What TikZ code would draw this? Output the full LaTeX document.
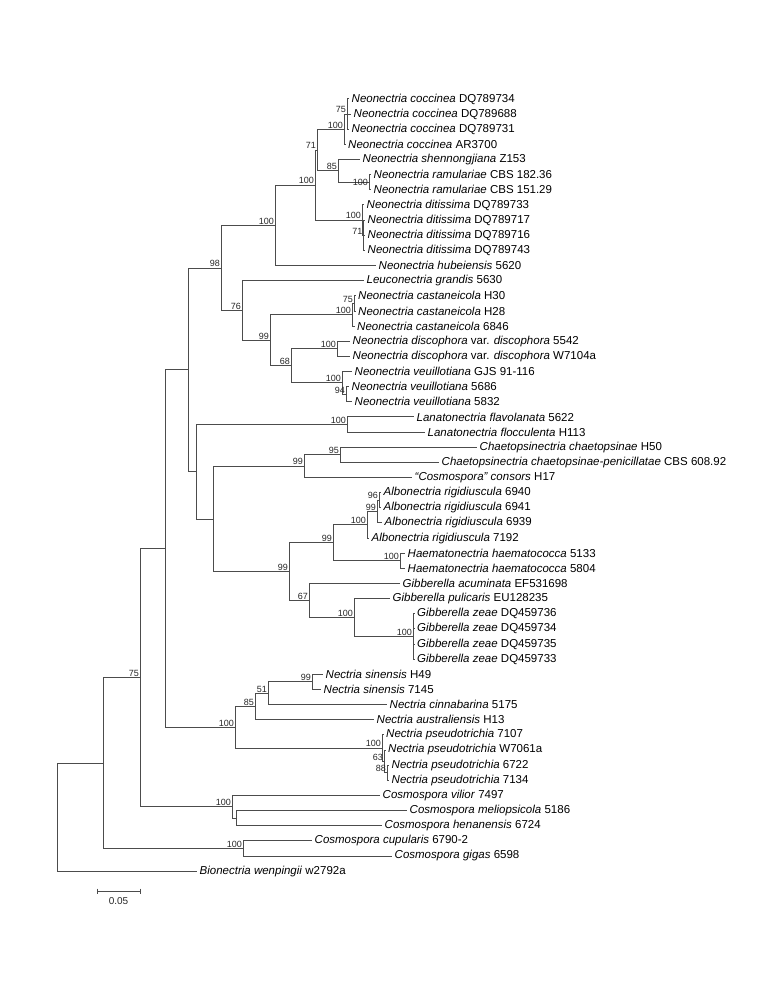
\documentclass[tikz,border=0pt]{standalone}
\usepackage{fontspec}
\setmainfont{Liberation Sans}
\usepackage{tikz}
\usetikzlibrary{positioning}

\begin{document}
\begin{tikzpicture}[x=1pt, y=-1pt,
  taxonnode/.style={anchor=west, inner sep=2.5pt, font=\fontsize{11.5}{13}\selectfont},
  bootnode/.style={anchor=south east, inner sep=1pt, text=black!85, font=\fontsize{9}{10}\selectfont},
  branch/.style={draw=black!70, line width=1pt},
  scalenode/.style={inner sep=0pt, text=black!85, font=\fontsize{10}{11}\selectfont}
  ]
  \useasboundingbox (0,0) rectangle (780,992);

  % Taxa
  \node[taxonnode] (taxon1)  at (349,99.0)   {\textit{Neonectria coccinea} DQ789734};
  \node[taxonnode] (taxon2)  at (351,114.1)  {\textit{Neonectria coccinea} DQ789688};
  \node[taxonnode] (taxon3)  at (349,129.3)  {\textit{Neonectria coccinea} DQ789731};
  \node[taxonnode] (taxon4)  at (345.5,144.4) {\textit{Neonectria coccinea} AR3700};
  \node[taxonnode] (taxon5)  at (360,159.6)  {\textit{Neonectria shennongjiana} Z153};
  \node[taxonnode] (taxon6)  at (371,174.7)  {\textit{Neonectria ramulariae} CBS 182.36};
  \node[taxonnode] (taxon7)  at (371,189.8)  {\textit{Neonectria ramulariae} CBS 151.29};
  \node[taxonnode] (taxon8)  at (364,205.0)  {\textit{Neonectria ditissima} DQ789733};
  \node[taxonnode] (taxon9)  at (365,220.1)  {\textit{Neonectria ditissima} DQ789717};
  \node[taxonnode] (taxon10) at (365,235.3)  {\textit{Neonectria ditissima} DQ789716};
  \node[taxonnode] (taxon11) at (365,250.4)  {\textit{Neonectria ditissima} DQ789743};
  \node[taxonnode] (taxon12) at (376,265.5)  {\textit{Neonectria hubeiensis} 5620};
  \node[taxonnode] (taxon13) at (364,280.7)  {\textit{Leuconectria grandis} 5630};
  \node[taxonnode] (taxon14) at (355.5,295.8) {\textit{Neonectria castaneicola} H30};
  \node[taxonnode] (taxon15) at (355.5,311.0) {\textit{Neonectria castaneicola} H28};
  \node[taxonnode] (taxon16) at (354.5,326.1) {\textit{Neonectria castaneicola} 6846};
  \node[taxonnode] (taxon17) at (350,341.2)  {\textit{Neonectria discophora} var. \textit{discophora} 5542};
  \node[taxonnode] (taxon18) at (350,356.4)  {\textit{Neonectria discophora} var. \textit{discophora} W7104a};
  \node[taxonnode] (taxon19) at (352,371.5)  {\textit{Neonectria veuillotiana} GJS 91-116};
  \node[taxonnode] (taxon20) at (349,386.7)  {\textit{Neonectria veuillotiana} 5686};
  \node[taxonnode] (taxon21) at (352,401.8)  {\textit{Neonectria veuillotiana} 5832};
  \node[taxonnode] (taxon22) at (414,416.9)  {\textit{Lanatonectria flavolanata} 5622};
  \node[taxonnode] (taxon23) at (425,432.1)  {\textit{Lanatonectria flocculenta} H113};
  \node[taxonnode] (taxon24) at (477,447.2)  {\textit{Chaetopsinectria chaetopsinae} H50};
  \node[taxonnode] (taxon25) at (439,462.4)  {\textit{Chaetopsinectria chaetopsinae-penicillatae} CBS 608.92};
  \node[taxonnode] (taxon26) at (412,477.5)  {\textit{“Cosmospora” consors} H17};
  \node[taxonnode] (taxon27) at (381,492.6)  {\textit{Albonectria rigidiuscula} 6940};
  \node[taxonnode] (taxon28) at (381,507.8)  {\textit{Albonectria rigidiuscula} 6941};
  \node[taxonnode] (taxon29) at (382,522.9)  {\textit{Albonectria rigidiuscula} 6939};
  \node[taxonnode] (taxon30) at (369,538.1)  {\textit{Albonectria rigidiuscula} 7192};
  \node[taxonnode] (taxon31) at (405,553.2)  {\textit{Haematonectria haematococca} 5133};
  \node[taxonnode] (taxon32) at (405,568.3)  {\textit{Haematonectria haematococca} 5804};
  \node[taxonnode] (taxon33) at (400,583.5)  {\textit{Gibberella acuminata} EF531698};
  \node[taxonnode] (taxon34) at (390,598.6)  {\textit{Gibberella pulicaris} EU128235};
  \node[taxonnode] (taxon35) at (414.5,613.8) {\textit{Gibberella zeae} DQ459736};
  \node[taxonnode] (taxon36) at (414.5,628.9) {\textit{Gibberella zeae} DQ459734};
  \node[taxonnode] (taxon37) at (414.5,644.0) {\textit{Gibberella zeae} DQ459735};
  \node[taxonnode] (taxon38) at (414.5,659.2) {\textit{Gibberella zeae} DQ459733};
  \node[taxonnode] (taxon39) at (323,674.3)  {\textit{Nectria sinensis} H49};
  \node[taxonnode] (taxon40) at (321,689.5)  {\textit{Nectria sinensis} 7145};
  \node[taxonnode] (taxon41) at (387,704.6)  {\textit{Nectria cinnabarina} 5175};
  \node[taxonnode] (taxon42) at (374,719.7)  {\textit{Nectria australiensis} H13};
  \node[taxonnode] (taxon43) at (383.5,734.9) {\textit{Nectria pseudotrichia} 7107};
  \node[taxonnode] (taxon44) at (385.5,750.0) {\textit{Nectria pseudotrichia} W7061a};
  \node[taxonnode] (taxon45) at (389,765.2)  {\textit{Nectria pseudotrichia} 6722};
  \node[taxonnode] (taxon46) at (389,780.3)  {\textit{Nectria pseudotrichia} 7134};
  \node[taxonnode] (taxon47) at (380,795.4)  {\textit{Cosmospora vilior} 7497};
  \node[taxonnode] (taxon48) at (407,810.6)  {\textit{Cosmospora meliopsicola} 5186};
  \node[taxonnode] (taxon49) at (382,825.7)  {\textit{Cosmospora henanensis} 6724};
  \node[taxonnode] (taxon50) at (312,840.9)  {\textit{Cosmospora cupularis} 6790-2};
  \node[taxonnode] (taxon51) at (392,856.0)  {\textit{Cosmospora gigas} 6598};
  \node[taxonnode] (taxon52) at (197,871.1)  {\textit{Bionectria wenpingii} w2792a};

  % Internal nodes
  \coordinate (coccinea75)   at (347,114.2);
  \coordinate (coccinea100)  at (344,129.3);
  \coordinate (ramulariae)   at (369,182.3);
  \coordinate (shennong85)   at (338,170.9);
  \coordinate (neo71)        at (317,150.1);
  \coordinate (ditissima71)  at (363.5,235.3);
  \coordinate (ditissima100) at (362,220.2);
  \coordinate (neo100)       at (315,185.2);
  \coordinate (neonectria)   at (275,225.4);
  \coordinate (castan75)     at (354,303.4);
  \coordinate (castan100)    at (352,314.8);
  \coordinate (discoph)      at (337,348.8);
  \coordinate (veuil94)      at (346,394.3);
  \coordinate (veuil100)     at (342,382.9);
  \coordinate (clade68)      at (291,365.9);
  \coordinate (clade99)      at (270,340.4);
  \coordinate (clade76)      at (242,310.6);
  \coordinate (clade98)      at (221,268.0);
  \coordinate (lanato)       at (347,424.5);
  \coordinate (chaeto95)     at (340,454.8);
  \coordinate (chaeto99)     at (304,466.2);
  \coordinate (albo96)       at (379,500.2);
  \coordinate (albo99)       at (377,511.6);
  \coordinate (albo100)      at (367,524.9);
  \coordinate (haemato)      at (400,560.8);
  \coordinate (alboh99)      at (333,542.9);
  \coordinate (zeae)         at (413,636.6);
  \coordinate (pulic100)     at (354,617.6);
  \coordinate (gib67)        at (309,600.6);
  \coordinate (gib99)        at (289,571.7);
  \coordinate (split213)     at (213,519.0);
  \coordinate (split196)     at (196,471.8);
  \coordinate (split188)     at (188,369.9);
  \coordinate (sinensis)     at (312,681.9);
  \coordinate (nectria51)    at (268,693.3);
  \coordinate (nectria85)    at (255,706.5);
  \coordinate (pseudo88)     at (387,772.8);
  \coordinate (pseudo63)     at (384,761.4);
  \coordinate (pseudo100)    at (382,748.2);
  \coordinate (nectria100)   at (235,727.4);
  \coordinate (split165)     at (165,548.7);
  \coordinate (cosmoM)       at (236,818.2);
  \coordinate (vilior100)    at (232,806.8);
  \coordinate (clade75)      at (140,677.8);
  \coordinate (cupul100)     at (243,848.5);
  \coordinate (split103)     at (103,763.2);
  \coordinate (root)         at (57,817.2);

  % Branches: Neonectria s. str.
  \draw[branch] (coccinea75) |- (taxon1.west);
  \draw[branch] (coccinea75) |- (taxon2.west);
  \draw[branch] (coccinea75) |- (taxon3.west);
  \draw[branch] (coccinea100) |- (coccinea75);
  \draw[branch] (coccinea100) |- (taxon4.west);
  \draw[branch] (ramulariae) |- (taxon6.west);
  \draw[branch] (ramulariae) |- (taxon7.west);
  \draw[branch] (shennong85) |- (taxon5.west);
  \draw[branch] (shennong85) |- (ramulariae);
  \draw[branch] (neo71) |- (coccinea100);
  \draw[branch] (neo71) |- (shennong85);
  \draw[branch] (ditissima71) |- (taxon9.west);
  \draw[branch] (ditissima71) |- (taxon10.west);
  \draw[branch] (ditissima71) |- (taxon11.west);
  \draw[branch] (ditissima100) |- (taxon8.west);
  \draw[branch] (ditissima100) |- (ditissima71);
  \draw[branch] (neo100) |- (neo71);
  \draw[branch] (neo100) |- (ditissima100);
  \draw[branch] (neonectria) |- (neo100);
  \draw[branch] (neonectria) |- (taxon12.west);

  % Branches: Leuconectria, castaneicola, discophora, veuillotiana
  \draw[branch] (castan75) |- (taxon14.west);
  \draw[branch] (castan75) |- (taxon15.west);
  \draw[branch] (castan100) |- (castan75);
  \draw[branch] (castan100) |- (taxon16.west);
  \draw[branch] (discoph) |- (taxon17.west);
  \draw[branch] (discoph) |- (taxon18.west);
  \draw[branch] (veuil94) |- (taxon20.west);
  \draw[branch] (veuil94) |- (taxon21.west);
  \draw[branch] (veuil100) |- (taxon19.west);
  \draw[branch] (veuil100) |- (veuil94);
  \draw[branch] (clade68) |- (discoph);
  \draw[branch] (clade68) |- (veuil100);
  \draw[branch] (clade99) |- (castan100);
  \draw[branch] (clade99) |- (clade68);
  \draw[branch] (clade76) |- (taxon13.west);
  \draw[branch] (clade76) |- (clade99);
  \draw[branch] (clade98) |- (neonectria);
  \draw[branch] (clade98) |- (clade76);

  % Branches: Lanatonectria to Gibberella
  \draw[branch] (lanato) |- (taxon22.west);
  \draw[branch] (lanato) |- (taxon23.west);
  \draw[branch] (chaeto95) |- (taxon24.west);
  \draw[branch] (chaeto95) |- (taxon25.west);
  \draw[branch] (chaeto99) |- (chaeto95);
  \draw[branch] (chaeto99) |- (taxon26.west);
  \draw[branch] (albo96) |- (taxon27.west);
  \draw[branch] (albo96) |- (taxon28.west);
  \draw[branch] (albo99) |- (albo96);
  \draw[branch] (albo99) |- (taxon29.west);
  \draw[branch] (albo100) |- (albo99);
  \draw[branch] (albo100) |- (taxon30.west);
  \draw[branch] (haemato) |- (taxon31.west);
  \draw[branch] (haemato) |- (taxon32.west);
  \draw[branch] (alboh99) |- (albo100);
  \draw[branch] (alboh99) |- (haemato);
  \draw[branch] (zeae) |- (taxon35.west);
  \draw[branch] (zeae) |- (taxon36.west);
  \draw[branch] (zeae) |- (taxon37.west);
  \draw[branch] (zeae) |- (taxon38.west);
  \draw[branch] (pulic100) |- (taxon34.west);
  \draw[branch] (pulic100) |- (zeae);
  \draw[branch] (gib67) |- (taxon33.west);
  \draw[branch] (gib67) |- (pulic100);
  \draw[branch] (gib99) |- (alboh99);
  \draw[branch] (gib99) |- (gib67);
  \draw[branch] (split213) |- (chaeto99);
  \draw[branch] (split213) |- (gib99);
  \draw[branch] (split196) |- (lanato);
  \draw[branch] (split196) |- (split213);
  \draw[branch] (split188) |- (clade98);
  \draw[branch] (split188) |- (split196);

  % Branches: Nectria
  \draw[branch] (sinensis) |- (taxon39.west);
  \draw[branch] (sinensis) |- (taxon40.west);
  \draw[branch] (nectria51) |- (sinensis);
  \draw[branch] (nectria51) |- (taxon41.west);
  \draw[branch] (nectria85) |- (nectria51);
  \draw[branch] (nectria85) |- (taxon42.west);
  \draw[branch] (pseudo88) |- (taxon45.west);
  \draw[branch] (pseudo88) |- (taxon46.west);
  \draw[branch] (pseudo63) |- (taxon44.west);
  \draw[branch] (pseudo63) |- (pseudo88);
  \draw[branch] (pseudo100) |- (taxon43.west);
  \draw[branch] (pseudo100) |- (pseudo63);
  \draw[branch] (nectria100) |- (nectria85);
  \draw[branch] (nectria100) |- (pseudo100);
  \draw[branch] (split165) |- (split188);
  \draw[branch] (split165) |- (nectria100);

  % Branches: Cosmospora and root
  \draw[branch] (cosmoM) |- (taxon48.west);
  \draw[branch] (cosmoM) |- (taxon49.west);
  \draw[branch] (vilior100) |- (taxon47.west);
  \draw[branch] (vilior100) |- (cosmoM);
  \draw[branch] (clade75) |- (split165);
  \draw[branch] (clade75) |- (vilior100);
  \draw[branch] (cupul100) |- (taxon50.west);
  \draw[branch] (cupul100) |- (taxon51.west);
  \draw[branch] (split103) |- (clade75);
  \draw[branch] (split103) |- (cupul100);
  \draw[branch] (root) |- (split103);
  \draw[branch] (root) |- (taxon52.west);

  % Bootstrap values
  \node[bootnode] (boot1)  at (coccinea75)   {75};
  \node[bootnode] (boot2)  at (coccinea100)  {100};
  \node[bootnode, anchor=east] (boot3) at (ramulariae) {100};
  \node[bootnode] (boot4)  at (shennong85)   {85};
  \node[bootnode] (boot5)  at (neo71)        {71};
  \node[bootnode] (boot6)  at (ditissima71)  {71};
  \node[bootnode] (boot7)  at (ditissima100) {100};
  \node[bootnode] (boot8)  at (neo100)       {100};
  \node[bootnode] (boot9)  at (neonectria)   {100};
  \node[bootnode] (boot10) at (clade98)      {98};
  \node[bootnode] (boot11) at (clade76)      {76};
  \node[bootnode] (boot12) at (clade99)      {99};
  \node[bootnode] (boot13) at (castan75)     {75};
  \node[bootnode] (boot14) at (castan100)    {100};
  \node[bootnode] (boot15) at (clade68)      {68};
  \node[bootnode] (boot16) at (discoph)      {100};
  \node[bootnode] (boot17) at (veuil100)     {100};
  \node[bootnode] (boot18) at (veuil94)      {94};
  \node[bootnode] (boot19) at (lanato)       {100};
  \node[bootnode] (boot20) at (chaeto99)     {99};
  \node[bootnode] (boot21) at (chaeto95)     {95};
  \node[bootnode] (boot22) at (albo96)       {96};
  \node[bootnode] (boot23) at (albo99)       {99};
  \node[bootnode] (boot24) at (albo100)      {100};
  \node[bootnode] (boot25) at (alboh99)      {99};
  \node[bootnode] (boot26) at (haemato)      {100};
  \node[bootnode] (boot27) at (gib99)        {99};
  \node[bootnode] (boot28) at (gib67)        {67};
  \node[bootnode] (boot29) at (pulic100)     {100};
  \node[bootnode] (boot30) at (zeae)         {100};
  \node[bootnode] (boot31) at (sinensis)     {99};
  \node[bootnode] (boot32) at (nectria51)    {51};
  \node[bootnode] (boot33) at (nectria85)    {85};
  \node[bootnode] (boot34) at (nectria100)   {100};
  \node[bootnode] (boot35) at (pseudo100)    {100};
  \node[bootnode] (boot36) at (pseudo63)     {63};
  \node[bootnode] (boot37) at (pseudo88)     {88};
  \node[bootnode] (boot38) at (vilior100)    {100};
  \node[bootnode] (boot39) at (clade75)      {75};
  \node[bootnode] (boot40) at (cupul100)     {100};

  % Scale bar
  \coordinate (barleft)  at (97,891);
  \coordinate (barright) at (140,891);
  \coordinate (barmid)   at (118.5,891);
  \draw[branch] (barleft) -- (barright);
  \draw[branch] ([yshift=2.5pt]barleft) -- ([yshift=-2.5pt]barleft);
  \draw[branch] ([yshift=2.5pt]barright) -- ([yshift=-2.5pt]barright);
  \node[scalenode] (barlabel) [below=6pt of barmid] {0.05};

\end{tikzpicture}
\end{document}
